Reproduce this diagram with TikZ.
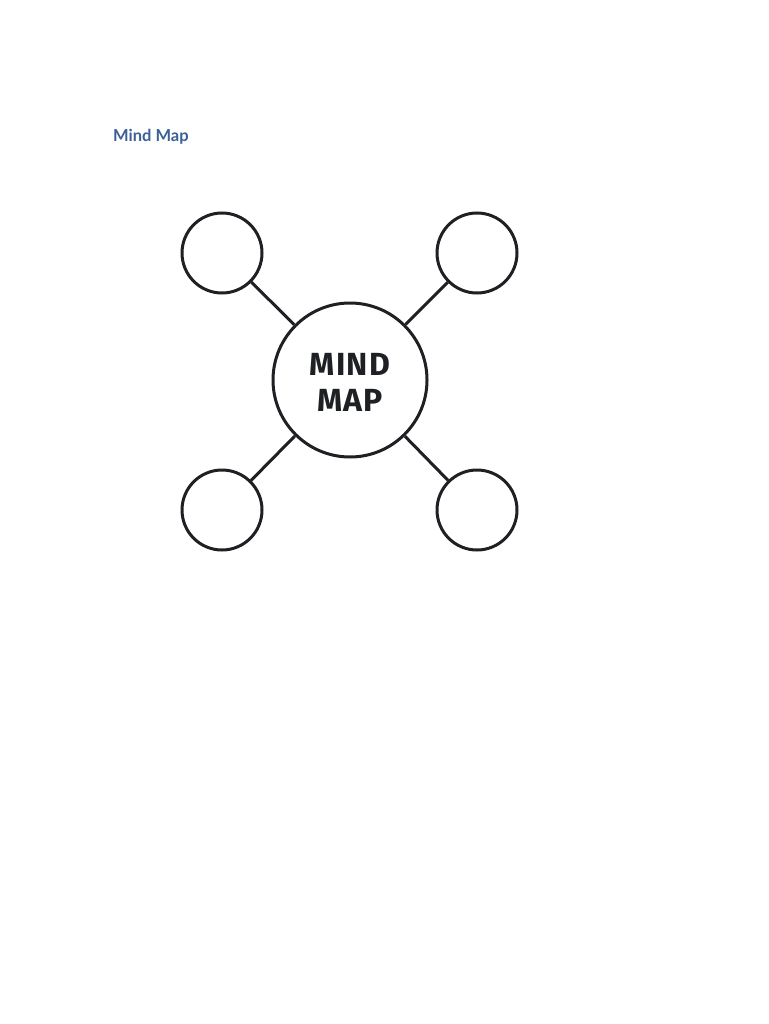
\documentclass[tikz,border=0pt]{standalone}
\usepackage{fontspec}
\setmainfont{Lato}
\newfontfamily\mapfont[LetterSpace=4]{Fira Sans}
\usepackage{xcolor}
\definecolor{titleblue}{RGB}{58,96,152}
\definecolor{inkgray}{RGB}{30,32,36}
\usepackage{tikz}
\tikzstyle{bubble} = [circle, draw=inkgray, line width=3pt, fill=white,
  inner sep=0pt, minimum width=80pt]
\tikzstyle{hub} = [bubble, minimum width=154pt, align=center,
  font=\mapfont\bfseries\fontsize{32}{36}\selectfont, text=inkgray]

\begin{document}
\begin{tikzpicture}[x=1pt, y=-1pt]
  \useasboundingbox[fill=white] (0,0) rectangle (768,1024);

  \node[anchor=base west, text=titleblue, inner sep=0pt,
    font=\bfseries\fontsize{16.5}{18}\selectfont] (title) at (113,142) {Mind Map};

  \node[hub] (m) at (350,380) {};
  \node[anchor=base, inner sep=0pt, font=\mapfont\bfseries\fontsize{32}{36}\selectfont,
    text=inkgray] (t1) at (350,375) {MIND};
  \node[anchor=base, inner sep=0pt, font=\mapfont\bfseries\fontsize{32}{36}\selectfont,
    text=inkgray] (t2) at (350,411) {MAP};
  \node[bubble] (nw) at (222,253) {};
  \node[bubble] (ne) at (477,253) {};
  \node[bubble] (sw) at (222,510) {};
  \node[bubble] (se) at (477,510) {};

  \path[draw, line width=3pt, inkgray] (m) -- (nw);
  \path[draw, line width=3pt, inkgray] (m) -- (ne);
  \path[draw, line width=3pt, inkgray] (m) -- (sw);
  \path[draw, line width=3pt, inkgray] (m) -- (se);
\end{tikzpicture}
\end{document}
